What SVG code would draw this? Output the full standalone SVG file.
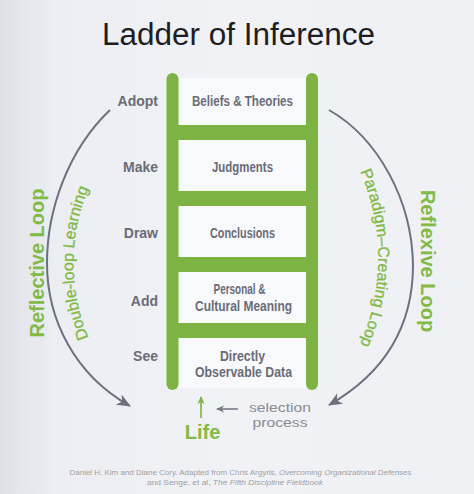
<svg xmlns="http://www.w3.org/2000/svg" width="474" height="494" viewBox="0 0 474 494">
<defs>
<linearGradient id="bg" x1="0" y1="0" x2="1" y2="0">
<stop offset="0" stop-color="#dfe1e8"/>
<stop offset="0.12" stop-color="#eceef3"/>
<stop offset="0.5" stop-color="#f1f2f6"/>
<stop offset="1" stop-color="#eff0f4"/>
</linearGradient>
<marker id="ahGray" markerUnits="userSpaceOnUse" markerWidth="16" markerHeight="14" viewBox="-14 -7 16 14" refX="0" refY="0" orient="auto">
<path d="M1,0 L-13,-6 L-9,0 L-13,6 Z" fill="#6f6f80"/>
</marker>
<marker id="ahSmallGray" markerUnits="userSpaceOnUse" markerWidth="10" markerHeight="8" viewBox="-8 -4 10 8" refX="0" refY="0" orient="auto">
<path d="M1,0 L-7,-3.5 L-5,0 L-7,3.5 Z" fill="#7a7b88"/>
</marker>
<marker id="ahGreen" markerUnits="userSpaceOnUse" markerWidth="10" markerHeight="10" viewBox="-8 -5 10 10" refX="0" refY="0" orient="auto">
<path d="M1,0 L-7,-3.5 L-5,0 L-7,3.5 Z" fill="#7cb342"/>
</marker>
<path id="arcLeftText" d="M169,429 A192,192 0 0 1 169,97"/>
<path id="arcRightText" d="M286,81 A216,216 0 0 1 286,435"/>
</defs>
<style>
.rail{fill:#7cb342}
.lbl{font-family:"Liberation Sans",Arial,sans-serif;font-weight:bold;font-size:14px;fill:#6a6b78;text-anchor:end}
.ctr{font-family:"Liberation Sans",Arial,sans-serif;font-weight:bold;font-size:14px;fill:#6a6b78;text-anchor:middle}
.big{font-family:"Liberation Sans",Arial,sans-serif;font-weight:bold;font-size:20px;fill:#82ba46;text-anchor:middle}
.curv{font-family:"Liberation Sans",Arial,sans-serif;font-size:16px;fill:#82ba46;stroke:#82ba46;stroke-width:0.35;text-anchor:middle}
.arc{fill:none;stroke:#6f6f80;stroke-width:2}
.sel{font-family:"Liberation Sans",Arial,sans-serif;font-size:13.4px;fill:#8a8b95;text-anchor:middle}
.foot{font-family:"Liberation Sans",Arial,sans-serif;font-size:7.6px;fill:#9c9ea8;text-anchor:middle}
</style>
<rect width="474" height="494" fill="url(#bg)"/>

<g id="title">
<text x="238.5" y="45" font-family="'Liberation Sans',Arial,sans-serif" font-size="31" fill="#1e1e22" text-anchor="middle" textLength="273" lengthAdjust="spacingAndGlyphs">Ladder of Inference</text>
</g>

<g id="ladder">
<rect x="178" y="78" width="128" height="310" fill="#f8f9fb"/>
<rect class="rail" x="166.5" y="73" width="12" height="317" rx="6"/>
<rect class="rail" x="306" y="73" width="12" height="317" rx="6"/>
<rect class="rail" x="178" y="125" width="128" height="15"/>
<rect class="rail" x="178" y="191" width="128" height="15"/>
<rect class="rail" x="178" y="257" width="128" height="15"/>
<rect class="rail" x="178" y="323" width="128" height="15"/>
</g>

<g id="rung-beliefs">
<text class="lbl" x="158" y="106">Adopt</text>
<text class="ctr" x="242.5" y="106" textLength="101" lengthAdjust="spacingAndGlyphs">Beliefs &amp; Theories</text>
</g>
<g id="rung-judgments">
<text class="lbl" x="158" y="172">Make</text>
<text class="ctr" x="242.5" y="172" textLength="61" lengthAdjust="spacingAndGlyphs">Judgments</text>
</g>
<g id="rung-conclusions">
<text class="lbl" x="158" y="238">Draw</text>
<text class="ctr" x="242.5" y="238" textLength="65" lengthAdjust="spacingAndGlyphs">Conclusions</text>
</g>
<g id="rung-meaning">
<text class="lbl" x="158" y="306">Add</text>
<text class="ctr" x="239.5" y="294" textLength="52" lengthAdjust="spacingAndGlyphs">Personal &amp;</text>
<text class="ctr" x="243.5" y="311" textLength="97" lengthAdjust="spacingAndGlyphs">Cultural Meaning</text>
</g>
<g id="rung-data">
<text class="lbl" x="158" y="361">See</text>
<text class="ctr" x="242.5" y="361" textLength="45" lengthAdjust="spacingAndGlyphs">Directly</text>
<text class="ctr" x="243.5" y="377" textLength="97" lengthAdjust="spacingAndGlyphs">Observable Data</text>
</g>

<g id="reflective-loop">
<text class="big" transform="translate(44,263) rotate(-90)">Reflective Loop</text>
<text class="curv"><textPath href="#arcLeftText" startOffset="50%">Double-loop Learning</textPath></text>
</g>
<g id="reflexive-loop">
<text class="big" transform="translate(421,261) rotate(90)">Reflexive Loop</text>
<text class="curv"><textPath href="#arcRightText" startOffset="50%">Paradigm–Creating Loop</textPath></text>
</g>

<g id="life">
<text x="202.5" y="439" font-family="'Liberation Sans',Arial,sans-serif" font-weight="bold" font-size="20" fill="#82ba46" text-anchor="middle">Life</text>
</g>
<g id="selection-process">
<text class="sel" x="280" y="411.5" textLength="62" lengthAdjust="spacingAndGlyphs">selection</text>
<text class="sel" x="280" y="426.5" textLength="55" lengthAdjust="spacingAndGlyphs">process</text>
</g>

<g id="connectors">
<path class="arc" d="M110,110 C68,150 47,210 47,263 C47,320 75,375 130,406" marker-end="url(#ahGray)"/>
<path class="arc" d="M329,110 C378,138 412,200 413,265 C413,320 390,370 329,405" marker-end="url(#ahGray)"/>
<line x1="201" y1="418" x2="201" y2="397" stroke="#7cb342" stroke-width="1.6" marker-end="url(#ahGreen)"/>
<line x1="238" y1="409" x2="217" y2="409" stroke="#7a7b88" stroke-width="1.6" marker-end="url(#ahSmallGray)"/>
</g>

<g id="credit">
<text class="foot" x="240.5" y="474.5" textLength="342" lengthAdjust="spacingAndGlyphs">Daniel H. Kim and Diane Cory.  Adapted from Chris Argyris, <tspan font-style="italic">Overcoming Organizational Defenses</tspan></text>
<text class="foot" x="235" y="484.5" textLength="176" lengthAdjust="spacingAndGlyphs">and Senge, et al, <tspan font-style="italic">The Fifth Discipline Fieldbook</tspan></text>
</g>
</svg>
